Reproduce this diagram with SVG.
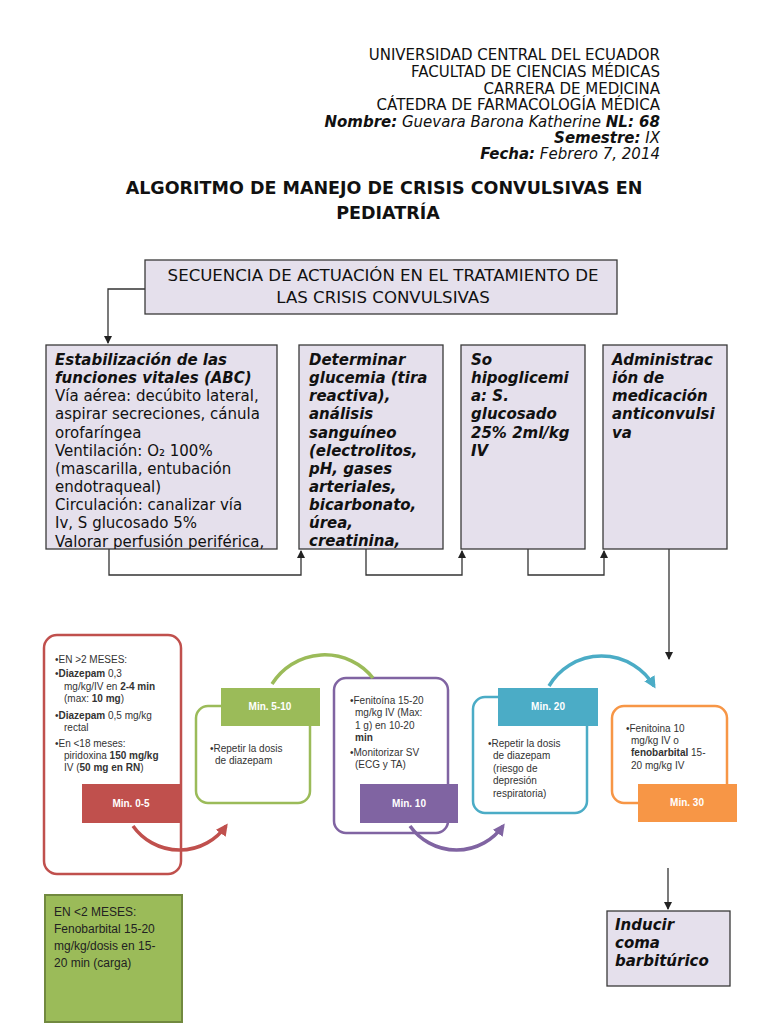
<svg xmlns="http://www.w3.org/2000/svg" width="768" height="1024" viewBox="0 0 768 1024">
<style>
.hdr{font-family:"DejaVu Sans",sans-serif;font-size:15px;fill:#111;text-anchor:end}
.b{font-weight:bold}
.i{font-style:italic}
.title{font-family:"DejaVu Sans",sans-serif;font-size:17.5px;font-weight:bold;fill:#111;text-anchor:middle}
.box{fill:#e5e0ec;stroke:#3a3a3a;stroke-width:1.3}
.bt{font-family:"DejaVu Sans",sans-serif;font-size:15px;fill:#111}
.bi{font-family:"DejaVu Sans",sans-serif;font-size:15px;fill:#111;font-weight:bold;font-style:italic}
.conn{fill:none;stroke:#333;stroke-width:1.3}
.sm{font-family:"Liberation Sans",sans-serif;font-size:10px;fill:#333}
.lbl{font-family:"Liberation Sans",sans-serif;font-size:10px;fill:#fff;font-weight:bold;text-anchor:middle}
.ol{fill:#fff;stroke-width:2.5}
</style>
<defs>
<marker id="ah" markerWidth="8" markerHeight="8" refX="7" refY="4" orient="auto" markerUnits="userSpaceOnUse"><path d="M0,0 L8,4 L0,8 Z" fill="#222"/></marker>
<marker id="ahR" markerWidth="12" markerHeight="12" refX="9" refY="6" orient="auto" markerUnits="userSpaceOnUse"><path d="M0,0 L12,6 L0,12 Z" fill="#c0504d"/></marker>
<marker id="ahP" markerWidth="12" markerHeight="12" refX="9" refY="6" orient="auto" markerUnits="userSpaceOnUse"><path d="M0,0 L12,6 L0,12 Z" fill="#8064a2"/></marker>
<marker id="ahB" markerWidth="12" markerHeight="12" refX="9" refY="6" orient="auto" markerUnits="userSpaceOnUse"><path d="M0,0 L12,6 L0,12 Z" fill="#4bacc6"/></marker>
<clipPath id="c1"><rect x="46" y="345" width="231" height="204"/></clipPath>
<clipPath id="c2"><rect x="299" y="345" width="144" height="204"/></clipPath>
</defs>
<rect width="768" height="1024" fill="#fff"/>

<g id="header">
<text class="hdr" x="660" y="60">UNIVERSIDAD CENTRAL DEL ECUADOR</text>
<text class="hdr" x="660" y="77">FACULTAD DE CIENCIAS MÉDICAS</text>
<text class="hdr" x="660" y="94">CARRERA DE MEDICINA</text>
<text class="hdr" x="660" y="110">CÁTEDRA DE FARMACOLOGÍA MÉDICA</text>
<text class="hdr" x="660" y="127"><tspan class="b i">Nombre:</tspan><tspan class="i"> Guevara Barona Katherine </tspan><tspan class="b i">NL: 68</tspan></text>
<text class="hdr" x="660" y="143"><tspan class="b i">Semestre:</tspan><tspan class="i"> IX</tspan></text>
<text class="hdr" x="660" y="159"><tspan class="b i">Fecha:</tspan><tspan class="i"> Febrero 7, 2014</tspan></text>
</g>

<g id="title">
<text class="title" x="384" y="194">ALGORITMO DE MANEJO DE CRISIS CONVULSIVAS EN</text>
<text class="title" x="388" y="219">PEDIATRÍA</text>
</g>

<g id="connectors">
<path class="conn" d="M145,289 H108 V343" marker-end="url(#ah)"/>
<path class="conn" d="M109,549 V575 H301 V551" marker-end="url(#ah)"/>
<path class="conn" d="M366,549 V575 H462 V551" marker-end="url(#ah)"/>
<path class="conn" d="M528,549 V575 H604 V551" marker-end="url(#ah)"/>
<path class="conn" d="M669,549 V659" marker-end="url(#ah)"/>
<path class="conn" d="M668,868 V909" marker-end="url(#ah)"/>
</g>

<g id="n-secuencia">
<rect class="box" x="145" y="260" width="472" height="54"/>
<text class="bt" x="383" y="281" text-anchor="middle" style="font-size:16.6px">SECUENCIA DE ACTUACIÓN EN EL TRATAMIENTO DE</text>
<text class="bt" x="383" y="303" text-anchor="middle" style="font-size:16.6px">LAS CRISIS CONVULSIVAS</text>
</g>

<g id="n-estabilizacion">
<rect class="box" x="46" y="345" width="231" height="204"/>
<g clip-path="url(#c1)">
<text class="bi" x="55" y="365">Estabilización de las</text>
<text class="bi" x="55" y="383">funciones vitales (ABC)</text>
<text class="bt" x="55" y="401">Vía aérea: decúbito lateral,</text>
<text class="bt" x="55" y="419">aspirar secreciones, cánula</text>
<text class="bt" x="55" y="438">orofaríngea</text>
<text class="bt" x="55" y="456">Ventilación: O₂ 100%</text>
<text class="bt" x="55" y="474">(mascarilla, entubación</text>
<text class="bt" x="55" y="492">endotraqueal)</text>
<text class="bt" x="55" y="510">Circulación: canalizar vía</text>
<text class="bt" x="55" y="528">Iv, S glucosado 5%</text>
<text class="bt" x="55" y="547">Valorar perfusión periférica,</text>
</g>
</g>

<g id="n-glucemia">
<rect class="box" x="299" y="345" width="144" height="204"/>
<g clip-path="url(#c2)">
<text class="bi" x="309" y="365">Determinar</text>
<text class="bi" x="309" y="383">glucemia (tira</text>
<text class="bi" x="309" y="401">reactiva),</text>
<text class="bi" x="309" y="419">análisis</text>
<text class="bi" x="309" y="438">sanguíneo</text>
<text class="bi" x="309" y="456">(electrolitos,</text>
<text class="bi" x="309" y="474">pH, gases</text>
<text class="bi" x="309" y="492">arteriales,</text>
<text class="bi" x="309" y="510">bicarbonato,</text>
<text class="bi" x="309" y="528">úrea,</text>
<text class="bi" x="309" y="546">creatinina,</text>
</g>
</g>

<g id="n-hipoglicemia">
<rect class="box" x="461" y="345" width="124" height="204"/>
<text class="bi" x="471" y="365">So</text>
<text class="bi" x="471" y="383">hipoglicemi</text>
<text class="bi" x="471" y="401">a: S.</text>
<text class="bi" x="471" y="419">glucosado</text>
<text class="bi" x="471" y="438">25% 2ml/kg</text>
<text class="bi" x="471" y="456">IV</text>
</g>

<g id="n-administracion">
<rect class="box" x="603" y="345" width="124" height="204"/>
<text class="bi" x="612" y="365">Administrac</text>
<text class="bi" x="612" y="383">ión de</text>
<text class="bi" x="612" y="401">medicación</text>
<text class="bi" x="612" y="419">anticonvulsi</text>
<text class="bi" x="612" y="438">va</text>
</g>

<g id="n-inducir">
<rect class="box" x="607" y="911" width="123" height="75"/>
<text class="bi" x="615" y="930">Inducir</text>
<text class="bi" x="615" y="948">coma</text>
<text class="bi" x="615" y="966">barbitúrico</text>
</g>

<g id="outlines">
<rect class="ol" x="44" y="635" width="137" height="239" rx="13" stroke="#c0504d"/>
<rect class="ol" x="196" y="706" width="114" height="97" rx="12" stroke="#9bbb59"/>
<rect class="ol" x="334" y="678" width="114" height="155" rx="12" stroke="#8064a2"/>
<rect class="ol" x="473" y="697" width="114" height="116" rx="12" stroke="#4bacc6"/>
<rect class="ol" x="612" y="706" width="115" height="97" rx="12" stroke="#f79646"/>
</g>

<g id="arcs" fill="none" stroke-width="3.5">
<path d="M133,826 A57,57 0 0 0 226,826" stroke="#c0504d" marker-end="url(#ahR)"/>
<path d="M272,684 A62,62 0 0 1 373,678" stroke="#9bbb59"/>
<path d="M410,826 A57,57 0 0 0 503,826" stroke="#8064a2" marker-end="url(#ahP)"/>
<path d="M549,686 A61,61 0 0 1 654,686" stroke="#4bacc6" marker-end="url(#ahB)"/>
</g>

<g id="n-min0-5">
<text class="sm" x="55" y="663">•EN &gt;2 MESES:</text>
<text class="sm" x="55" y="677">•<tspan class="b">Diazepam</tspan> 0,3</text>
<text class="sm" x="64" y="690">mg/kg/IV en <tspan class="b">2-4 min</tspan></text>
<text class="sm" x="64" y="702">(max: <tspan class="b">10 mg</tspan>)</text>
<text class="sm" x="55" y="719">•<tspan class="b">Diazepam</tspan> 0,5 mg/kg</text>
<text class="sm" x="64" y="731">rectal</text>
<text class="sm" x="55" y="747">•En &lt;18 meses:</text>
<text class="sm" x="64" y="759">piridoxina <tspan class="b">150 mg/kg</tspan></text>
<text class="sm" x="64" y="771">IV (<tspan class="b">50 mg en RN</tspan>)</text>
<rect x="82" y="784" width="99" height="39" fill="#c0504d"/>
<text class="lbl" x="131" y="807">Min. 0-5</text>
</g>

<g id="n-min5-10">
<rect x="221" y="688" width="99" height="38" fill="#9bbb59"/>
<text class="lbl" x="270" y="710">Min. 5-10</text>
<text class="sm" x="210" y="752">•Repetir la dosis</text>
<text class="sm" x="215" y="764">de diazepam</text>
</g>

<g id="n-min10">
<text class="sm" x="350" y="704">•Fenitoína 15-20</text>
<text class="sm" x="355" y="716">mg/kg IV (Max:</text>
<text class="sm" x="355" y="729">1 g) en 10-20</text>
<text class="sm b" x="355" y="741">min</text>
<text class="sm" x="350" y="756">•Monitorizar SV</text>
<text class="sm" x="355" y="768">(ECG y TA)</text>
<rect x="360" y="784" width="98" height="39" fill="#8064a2"/>
<text class="lbl" x="409" y="807">Min. 10</text>
</g>

<g id="n-min20">
<rect x="498" y="688" width="100" height="38" fill="#4bacc6"/>
<text class="lbl" x="548" y="710">Min. 20</text>
<text class="sm" x="488" y="747">•Repetir la dosis</text>
<text class="sm" x="493" y="759">de diazepam</text>
<text class="sm" x="493" y="772">(riesgo de</text>
<text class="sm" x="493" y="784">depresión</text>
<text class="sm" x="493" y="797">respiratoria)</text>
</g>

<g id="n-min30">
<text class="sm" x="626" y="732">•Fenitoina 10</text>
<text class="sm" x="631" y="744">mg/kg IV o</text>
<text class="sm" x="631" y="756"><tspan class="b">fenobarbital</tspan> 15-</text>
<text class="sm" x="631" y="769">20 mg/kg IV</text>
<rect x="638" y="784" width="99" height="38" fill="#f79646"/>
<text class="lbl" x="687" y="806">Min. 30</text>
</g>

<g id="n-menos2meses">
<rect x="45" y="895" width="137" height="127" fill="#9bbb59" stroke="#71893f" stroke-width="2"/>
<text class="sm" x="54" y="916" style="font-size:12px;fill:#222">EN &lt;2 MESES:</text>
<text class="sm" x="54" y="933" style="font-size:12px;fill:#222">Fenobarbital 15-20</text>
<text class="sm" x="54" y="950" style="font-size:12px;fill:#222">mg/kg/dosis en 15-</text>
<text class="sm" x="54" y="967" style="font-size:12px;fill:#222">20 min (carga)</text>
</g>
</svg>
